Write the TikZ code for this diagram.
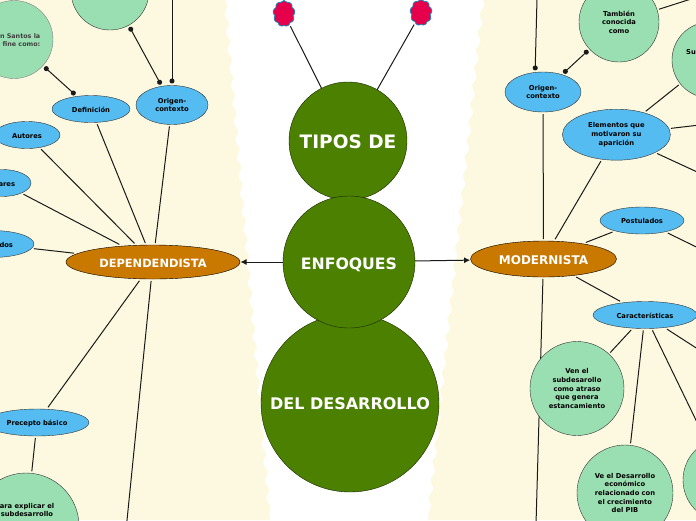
\documentclass[tikz,border=0pt]{standalone}
\usepackage{fontspec}
\setmainfont{DejaVu Sans}
\usetikzlibrary{arrows.meta, shapes.geometric, shapes.symbols, decorations.pathmorphing}

\definecolor{bandcream}{HTML}{FDF9E0}
\definecolor{maingreen}{HTML}{4C8000}
\definecolor{topicorange}{HTML}{C97800}
\definecolor{subblue}{HTML}{54BCF0}
\definecolor{ideagreen}{HTML}{9ADFB2}
\definecolor{linedark}{HTML}{1A1A1A}
\definecolor{flowerred}{HTML}{E6004C}
\definecolor{flowerblue}{HTML}{1B87BF}

\tikzset{
  mainnode/.style={circle, draw=black!70!maingreen, fill=maingreen, text=white, inner sep=0pt, outer sep=0pt, text depth=0pt},
  topicnode/.style={ellipse, draw=black, fill=topicorange, text=white, inner sep=0pt, outer sep=2pt, text height=10pt, text depth=0pt},
  subnode/.style={ellipse, draw=black!80, fill=subblue, text=black, inner sep=0pt, outer sep=2pt, align=center, font=\bfseries\fontsize{6.75}{8.6}\selectfont, execute at begin node={\rule{0pt}{7pt}}},
  ideanode/.style={circle, draw=black!80, fill=ideagreen, text=black, inner sep=0pt, outer sep=2pt, align=center, font=\bfseries\fontsize{6.75}{8.6}\selectfont, execute at begin node={\rule{0pt}{7pt}}},
  ideatext/.style={text=black, inner sep=0pt, align=right, font=\bfseries\fontsize{6.75}{8.6}\selectfont},
  flower/.style={cloud, cloud puffs=9, cloud puff arc=120, aspect=0.85, draw=flowerblue, fill=flowerred, line width=0.8pt, inner sep=0pt, outer sep=2pt, minimum width=22pt, minimum height=26pt},
  link/.style={draw=linedark, line width=1pt},
  dotlink/.style={link, {Circle[length=5pt]}-{Circle[length=5pt]}},
  arrowlink/.style={link, -{Latex[length=6pt, width=6pt]}, shorten >=-1.5pt},
  wavy/.style={decoration={snake, segment length=18pt, amplitude=1.8pt}}
}

\begin{document}
\begin{tikzpicture}[x=1pt, y=-1pt]
    \useasboundingbox (0,0) rectangle (696,520);
    \clip (0,0) rectangle (696,520);

    % Draw cream bands
    \fill[bandcream, wavy] (0,0) -- (225,0) decorate {-- (270,520)} -- (0,520) -- cycle;
    \fill[bandcream, wavy] (696,0) -- (483,0) decorate {-- (428,520)} -- (696,520) -- cycle;

    % Draw central circles
    \node[mainnode, minimum size=178pt, font=\bfseries\fontsize{16}{19}\selectfont, text height=13.5pt] (desarrollo) at (350,403) {DEL DESARROLLO};
    \node[mainnode, minimum size=118pt, font=\bfseries\fontsize{18.5}{22}\selectfont, text height=15.5pt] (tipos) at (348,141) {TIPOS DE};
    \node[mainnode, minimum size=132pt, font=\bfseries\fontsize{15.7}{19}\selectfont, text height=14.5pt] (enfoques) at (349,262) {ENFOQUES};

    % Draw flowers
    \node[flower] (florizq) at (284,13.5) {};
    \node[flower] (florder) at (421,12.5) {};
    \draw[link] (florizq) -- (tipos);
    \draw[link] (florder) -- (tipos);

    % Draw main topics
    \node[topicnode, minimum width=174pt, minimum height=34pt, font=\bfseries\fontsize{11.4}{13}\selectfont] (depend) at (153,262) {DEPENDENDISTA};
    \node[topicnode, minimum width=146pt, minimum height=36pt, font=\bfseries\fontsize{12}{14}\selectfont] (modern) at (543.5,259) {MODERNISTA};
    \draw[arrowlink] (enfoques) -- (depend);
    \draw[arrowlink] (enfoques) -- (modern);

    % Left side nodes
    \node[ideanode, minimum size=78pt] (arriba) at (110,-9) {};
    \node[ideanode, minimum size=78pt, draw=black!50] (santos) at (14,39.5) {};
    \node[ideatext, text=black!75, anchor=east, font=\bfseries\fontsize{6.4}{8.6}\selectfont] (santostxt) at (40.5,40) {n Santos la\\fine como:};
    \node[subnode, minimum width=78pt, minimum height=27pt] (defin) at (91,109) {Definición};
    \node[subnode, minimum width=72pt, minimum height=39pt] (origizq) at (172,105) {Origen-\\contexto};
    \node[subnode, minimum width=66pt, minimum height=27pt] (autores) at (27,135) {Autores};
    \node[subnode, minimum width=58pt, minimum height=27pt] (pilares) at (2,183) {\phantom{Pil}ares};
    \node[subnode, minimum width=84pt, minimum height=27pt] (postizq) at (-8,244) {\phantom{Postula}dos};
    \node[subnode, minimum width=104pt, minimum height=27pt] (precepto) at (37,422.5) {Precepto básico};
    \node[ideanode, minimum size=106pt] (explicar) at (26,526) {};
    \node[ideatext, align=center] (explicartxt) at (27,510) {ara explicar el\\subdesarrollo};
    \coordinate (arribaizq) at (172,-40);
    \coordinate (abajoizq) at (123,560);

    % Left side connectors
    \draw[dotlink] (arriba) -- (origizq);
    \draw[dotlink] (santos) -- (defin);
    \draw[link, -{Circle[length=5pt]}] (arribaizq) -- (origizq);
    \draw[link] (defin) -- (depend);
    \draw[link] (origizq) -- (depend);
    \draw[link] (autores) -- (depend);
    \draw[link] (pilares) -- (depend);
    \draw[link] (postizq) -- (depend);
    \draw[link] (depend) -- (precepto);
    \draw[link] (precepto) -- (explicar);
    \draw[link] (depend) -- (abajoizq);

    % Right side nodes
    \node[ideanode, minimum size=80pt] (conocida) at (619,22) {También\\conocida\\como};
    \node[ideanode, minimum size=76pt] (surge) at (710,60) {};
    \node[ideatext, anchor=west] (surgetxt) at (686,52) {Su};
    \node[subnode, minimum width=76pt, minimum height=40pt] (origder) at (543,92) {Origen-\\contexto};
    \node[subnode, minimum width=108pt, minimum height=51pt] (elementos) at (616.4,134.7) {Elementos que\\motivaron su\\aparición};
    \node[subnode, minimum width=84pt, minimum height=27pt] (postder) at (642,220.5) {Postulados};
    \node[subnode, minimum width=104pt, minimum height=27pt] (caract) at (645,315) {Características};
    \node[ideanode, minimum size=96pt] (economico) at (625,493) {Ve el Desarrollo\\económico\\relacionado con\\el crecimiento\\del PIB};
    \node[ideanode, minimum size=84pt] (otraidea) at (725,480) {};
    \coordinate (arribader) at (538,-40);
    \coordinate (abajoder) at (535,560);
    \coordinate (conocidafin) at (760,-23);
    \coordinate (elemfina) at (760,118);
    \coordinate (elemfinb) at (760,201);
    \coordinate (postfin) at (760,278);
    \coordinate (caractfin) at (760,389);

    % Right side connectors
    \draw[dotlink] (conocida) -- (origder);
    \draw[link, -{Circle[length=5pt]}] (arribader) -- (origder.110);
    \draw[link] (conocida) -- (conocidafin);
    \draw[link] (origder) -- (modern);
    \draw[link] (elementos) -- (modern);
    \draw[link] (elementos) -- (surge);
    \draw[link] (elementos) -- (elemfina);
    \draw[link] (elementos) -- (elemfinb);
    \draw[link] (postder) -- (modern);
    \draw[link] (postder) -- (postfin);
    \draw[link] (modern) -- (caract);
    \draw[link] (modern) -- (abajoder);
    \draw[link] (caract) -- (economico);
    \draw[link] (caract) -- (otraidea);
    \draw[link] (caract) -- (caractfin);

    % This circle sits on top of the long line
    \node[ideanode, minimum size=94pt] (atraso) at (577,388.5) {Ven el\\subdesarollo\\como atraso\\que genera\\estancamiento};
    \draw[link] (caract) -- (atraso);
\end{tikzpicture}
\end{document}
